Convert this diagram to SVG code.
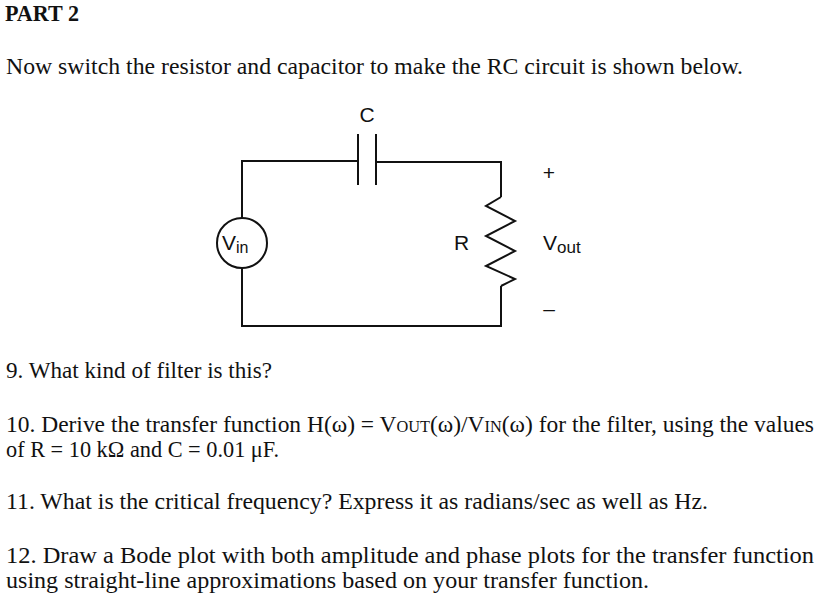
<svg xmlns="http://www.w3.org/2000/svg" width="820" height="605" viewBox="0 0 820 605">
<style>
.t{font-family:"Liberation Serif",serif;font-size:23px;fill:#111}
.s{font-family:"Liberation Sans",Arial,sans-serif;font-size:21px;fill:#111}
.w{fill:none;stroke:#111;stroke-width:2}
</style>
<rect width="820" height="605" fill="#fff"/>
<text class="t" x="5" y="21" font-weight="bold" font-size="20" textLength="74" lengthAdjust="spacingAndGlyphs">PART 2</text>
<text class="t" x="6" y="74" textLength="737" lengthAdjust="spacingAndGlyphs">Now switch the resistor and capacitor to make the RC circuit is shown below.</text>
<g id="connectors">
<path class="w" d="M358 161 H242 V218 M242 268 V326 H501 V286 M376 162 H501 V197"/>
</g>
<g id="C">
<path class="w" d="M358 134 V185 M376 134 V185"/>
<text class="s" x="367" y="122" text-anchor="middle">C</text>
</g>
<g id="Vin">
<circle class="w" cx="242" cy="243" r="25"/>
<text class="s" x="222" y="250">V<tspan font-size="16" dy="3">in</tspan></text>
</g>
<g id="R">
<path class="w" d="M501 197 L486 206 L515 221 L486 236 L515 251 L486 266 L515 279 L501 286"/>
<text class="s" x="454" y="250">R</text>
</g>
<g id="Vout">
<text class="s" x="549" y="180" text-anchor="middle">+</text>
<text class="s" x="543" y="250">V<tspan font-size="17" dy="3">out</tspan></text>
<text class="s" x="549" y="316" text-anchor="middle">–</text>
</g>
<text class="t" x="6" y="378" textLength="266" lengthAdjust="spacingAndGlyphs">9. What kind of filter is this?</text>
<text class="t" x="6" y="432" textLength="808" lengthAdjust="spacingAndGlyphs">10. Derive the transfer function H(ω) = V<tspan font-size="16">OUT</tspan>(ω)/V<tspan font-size="16">IN</tspan>(ω) for the filter, using the values</text>
<text class="t" x="6" y="457" textLength="273" lengthAdjust="spacingAndGlyphs">of R = 10 kΩ and C = 0.01 μF.</text>
<text class="t" x="6" y="509" textLength="702" lengthAdjust="spacingAndGlyphs">11. What is the critical frequency? Express it as radians/sec as well as Hz.</text>
<text class="t" x="6" y="563" textLength="808" lengthAdjust="spacingAndGlyphs">12. Draw a Bode plot with both amplitude and phase plots for the transfer function</text>
<text class="t" x="6" y="588" textLength="643" lengthAdjust="spacingAndGlyphs">using straight-line approximations based on your transfer function.</text>
</svg>
